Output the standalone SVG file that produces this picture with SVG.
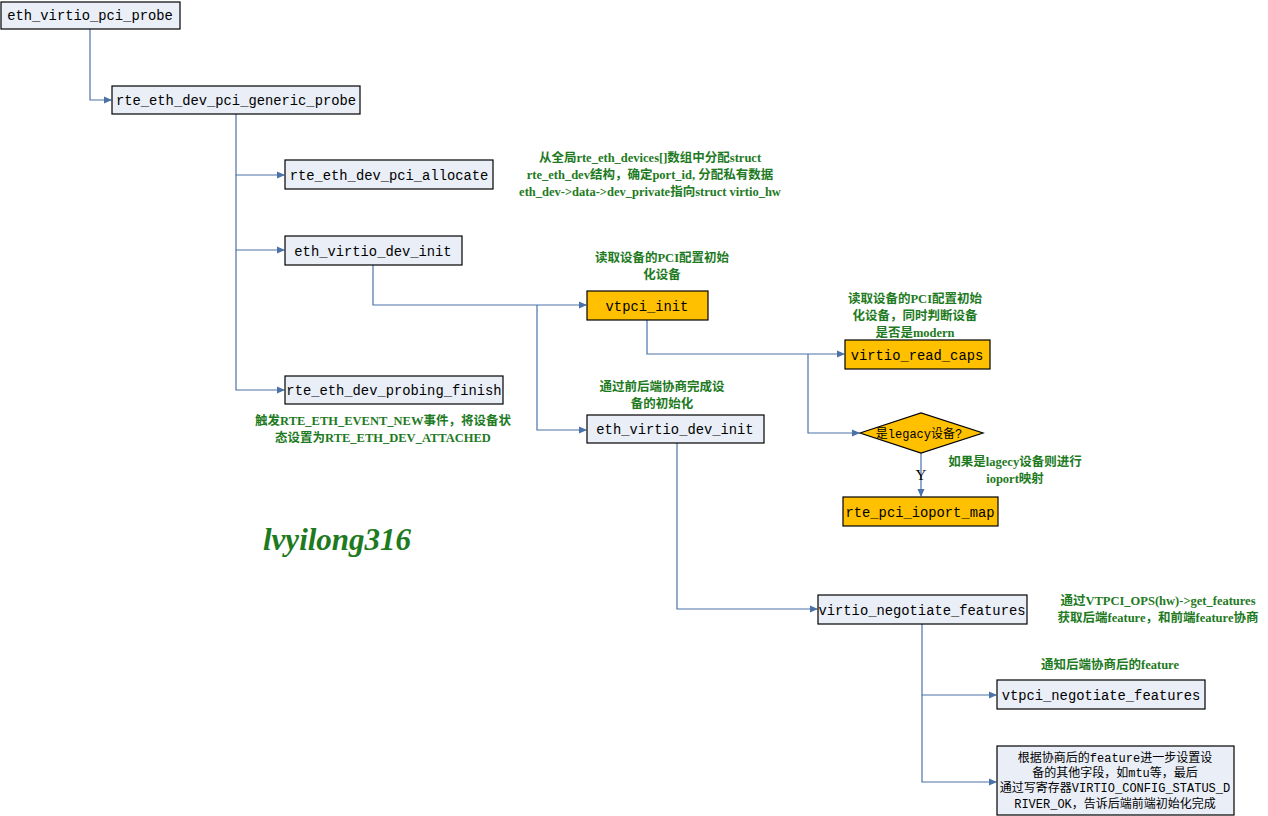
<svg xmlns="http://www.w3.org/2000/svg" width="1268" height="816" viewBox="0 0 1268 816">
<style>
.b{fill:#e9eef7;stroke:#000;stroke-width:1.2}
.o{fill:#ffc000;stroke:#000;stroke-width:1.2}
.t{font-family:"Liberation Mono","Noto Sans CJK SC",monospace;font-size:13.8px;fill:#000;text-anchor:middle}
.g{font-family:"Liberation Serif","Noto Sans CJK SC",serif;font-size:12.5px;font-weight:bold;fill:#1e7a1e;text-anchor:middle}
.c{fill:none;stroke:#4a72a8;stroke-width:1.2;marker-end:url(#a)}
.s{font-family:"Liberation Mono","Noto Sans CJK SC",monospace;font-size:12px;fill:#000;text-anchor:middle}
</style>
<defs><marker id="a" markerWidth="8" markerHeight="8" refX="7" refY="4" orient="auto" markerUnits="userSpaceOnUse"><path d="M0,0.5 L8,4 L0,7.5z" fill="#4a72a8"/></marker></defs>
<rect width="1268" height="816" fill="#fff"/>
<g id="connectors">
<path class="c" d="M90,29 V100 H111"/>
<path class="c" d="M236,114 V175 H284"/>
<path class="c" d="M236,175 V250 H284"/>
<path class="c" d="M236,250 V390 H284"/>
<path class="c" d="M373,265 V305 H586"/>
<path class="c" d="M537,305 V430 H586"/>
<path class="c" d="M647,320 V354 H844"/>
<path class="c" d="M808,354 V433 H859"/>
<path class="c" d="M921,453 V496"/>
<path class="c" d="M677,443 V609 H817"/>
<path class="c" d="M922,624 V695 H996"/>
<path class="c" d="M922,695 V782 H996"/>
</g>
<g id="n1"><rect class="b" x="1" y="2" width="179" height="27"/><text class="t" x="90" y="20">eth_virtio_pci_probe</text></g>
<g id="n2"><rect class="b" x="112" y="86" width="248" height="28"/><text class="t" x="236" y="105">rte_eth_dev_pci_generic_probe</text></g>
<g id="n3"><rect class="b" x="285" y="160" width="208" height="29"/><text class="t" x="389" y="180">rte_eth_dev_pci_allocate</text></g>
<g id="n4"><rect class="b" x="285" y="236" width="177" height="29"/><text class="t" x="373" y="256">eth_virtio_dev_init</text></g>
<g id="n5"><rect class="b" x="285" y="376" width="218" height="28"/><text class="t" x="394" y="395">rte_eth_dev_probing_finish</text></g>
<g id="n6"><rect class="o" x="587" y="291" width="121" height="29"/><text class="t" x="647" y="311">vtpci_init</text></g>
<g id="n7"><rect class="b" x="587" y="415" width="177" height="28"/><text class="t" x="675" y="434">eth_virtio_dev_init</text></g>
<g id="n8"><rect class="o" x="845" y="340" width="145" height="29"/><text class="t" x="917" y="360">virtio_read_caps</text></g>
<g id="n9"><polygon class="o" points="860,433 921,413 983,433 921,453"/><text class="s" x="919" y="438">是legacy设备?</text></g>
<g id="n10"><rect class="o" x="843" y="497" width="155" height="29"/><text class="t" x="920" y="517">rte_pci_ioport_map</text></g>
<g id="n11"><rect class="b" x="818" y="595" width="209" height="29"/><text class="t" x="922" y="615">virtio_negotiate_features</text></g>
<g id="n12"><rect class="b" x="997" y="680" width="208" height="29"/><text class="t" x="1101" y="700">vtpci_negotiate_features</text></g>
<g id="n13"><rect class="b" x="997" y="746" width="237" height="69"/>
<text class="s" x="1115" y="762">根据协商后的feature进一步设置设</text>
<text class="s" x="1115" y="777">备的其他字段，如mtu等，最后</text>
<text class="s" x="1115" y="792">通过写寄存器VIRTIO_CONFIG_STATUS_D</text>
<text class="s" x="1115" y="808">RIVER_OK，告诉后端前端初始化完成</text></g>
<text class="g" x="650" y="162">从全局rte_eth_devices[]数组中分配struct</text>
<text class="g" x="650" y="179">rte_eth_dev结构，确定port_id, 分配私有数据</text>
<text class="g" x="650" y="196">eth_dev-&gt;data-&gt;dev_private指向struct virtio_hw</text>
<text class="g" x="662" y="262">读取设备的PCI配置初始</text>
<text class="g" x="662" y="279">化设备</text>
<text class="g" x="915" y="303">读取设备的PCI配置初始</text>
<text class="g" x="915" y="320">化设备，同时判断设备</text>
<text class="g" x="915" y="337">是否是modern</text>
<text class="g" x="662" y="391">通过前后端协商完成设</text>
<text class="g" x="662" y="408">备的初始化</text>
<text class="g" x="383" y="425">触发RTE_ETH_EVENT_NEW事件，将设备状</text>
<text class="g" x="383" y="442">态设置为RTE_ETH_DEV_ATTACHED</text>
<text class="g" x="1015" y="466">如果是lagecy设备则进行</text>
<text class="g" x="1015" y="483">ioport映射</text>
<text x="921" y="480" font-family="Liberation Serif,serif" font-size="15" text-anchor="middle">Y</text>
<text class="g" x="1158" y="605">通过VTPCI_OPS(hw)-&gt;get_features</text>
<text class="g" x="1158" y="622">获取后端feature，和前端feature协商</text>
<text class="g" x="1110" y="669">通知后端协商后的feature</text>
<text x="263" y="550" font-family="Liberation Serif,serif" font-size="31" font-weight="bold" font-style="italic" fill="#1e7a1e">lvyilong316</text>
</svg>
